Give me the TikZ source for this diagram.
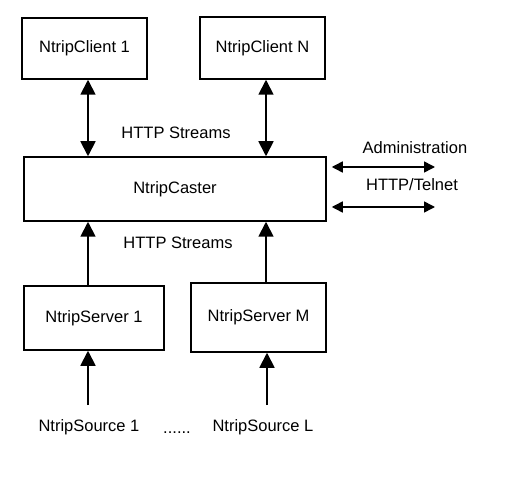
\documentclass[tikz,border=0pt]{standalone}
\usepackage{fontspec}
\setmainfont{Liberation Sans}
\usetikzlibrary{arrows.meta}
\begin{document}
\begin{tikzpicture}[x=1pt,y=-1pt,
  box/.style={draw,line width=1.5pt,inner sep=0pt,font=\fontsize{16.5}{19}\selectfont},
  lbl/.style={inner sep=0pt,font=\fontsize{16.5}{19}\selectfont},
  conn/.style={line width=1.8pt,-{Triangle[length=15pt,width=15pt]}},
  bconn/.style={line width=1.8pt,{Triangle[length=15pt,width=15pt]}-{Triangle[length=15pt,width=15pt]}},
  sconn/.style={line width=1.5pt,{Triangle[length=11pt,width=11pt]}-{Triangle[length=11pt,width=11pt]}}]
\useasboundingbox (0,0) rectangle (506,478);
\node[box,minimum width=125pt,minimum height=61pt] (c1) at (84.5,48.5) {NtripClient 1};
\node[box,minimum width=125pt,minimum height=62pt] (cN) at (262.5,48) {NtripClient N};
\node[box,minimum width=302pt,minimum height=64pt] (caster) at (175,189) {NtripCaster};
\node[box,minimum width=140pt,minimum height=64pt] (s1) at (94,318) {NtripServer 1};
\node[box,minimum width=135pt,minimum height=69pt] (sM) at (258.5,317.5) {NtripServer M};
\node[lbl] (h1) at (176,133) {HTTP Streams};
\node[lbl] (h2) at (178,243) {HTTP Streams};
\node[lbl] (adm) at (415,148) {Administration};
\node[lbl] (tel) at (412,185) {HTTP/Telnet};
\node[lbl] (src1) at (89,427) {NtripSource 1};
\node[lbl,anchor=base] (dots) at (177,433) {......};
\node[lbl] (srcL) at (263,427) {NtripSource L};
\coordinate (xL) at (88,0);
\coordinate (xR) at (266,0);
\coordinate (t1) at (88,405);
\coordinate (tL) at (267,405);
\coordinate (r1) at (435,167);
\coordinate (r2) at (435,207);
\draw[bconn] (c1.south -| xL) -- (caster.north -| xL);
\draw[bconn] (cN.south -| xR) -- (caster.north -| xR);
\draw[conn] (s1.north -| xL) -- (caster.south -| xL);
\draw[conn] (sM.north -| xR) -- (caster.south -| xR);
\draw[conn] (t1) -- (s1.south -| t1);
\draw[conn] (tL) -- (sM.south -| tL);
\draw[sconn,shorten <=5pt] (caster.east |- r1) -- (r1);
\draw[sconn,shorten <=5pt] (caster.east |- r2) -- (r2);
\end{tikzpicture}
\end{document}
